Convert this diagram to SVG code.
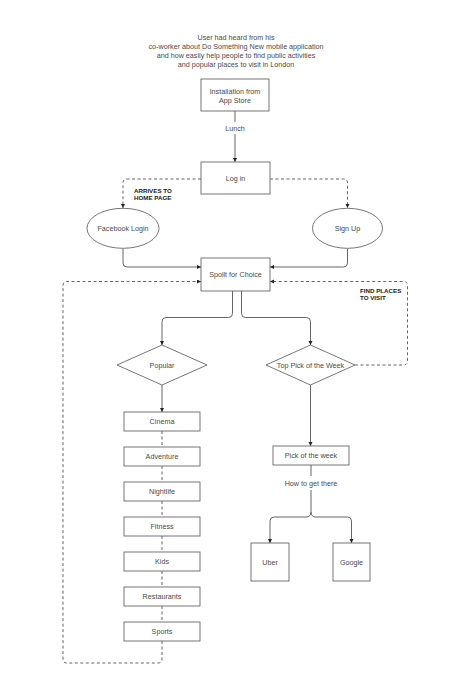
<svg xmlns="http://www.w3.org/2000/svg" width="474" height="698" viewBox="0 0 474 698">
<defs>
<style>
text{font-family:"Liberation Sans",Arial,sans-serif;font-size:7.2px;fill:#4a4a4a;text-anchor:middle}
.b{font-weight:bold;font-size:6.2px;fill:#222;text-anchor:start}
.n{fill:#fff;stroke:#666;stroke-width:0.9}
.c{fill:none;stroke:#555;stroke-width:0.9}
.d{fill:none;stroke:#555;stroke-width:0.9;stroke-dasharray:3 2.5}
</style>
<marker id="a" markerUnits="userSpaceOnUse" markerWidth="5" markerHeight="5" refX="4" refY="2" orient="auto">
<path d="M0,0 L4,2 L0,4 z" fill="#222"/>
</marker>
</defs>
<rect width="474" height="698" fill="#fff"/>
<g id="title">
<text x="236" y="39.5">User had heard from his</text>
<text x="236" y="48.5">co-worker about Do Something New mobile application</text>
<text x="236" y="57.5">and how easily help people to find public activities</text>
<text x="236" y="66.5">and popular places to visit in London</text>
</g>
<g id="connectors">
<path class="c" d="M235,111 L235,122"/>
<path class="c" d="M235,134 L235,162" marker-end="url(#a)"/>
<path class="d" d="M201,179 L127,179 Q123,179 123,183 L123,208" marker-end="url(#a)"/>
<path class="d" d="M270,179 L343.5,179 Q347.5,179 347.5,183 L347.5,208" marker-end="url(#a)"/>
<path class="c" d="M123,248.5 L123,263 Q123,267 127,267 L201,267" marker-end="url(#a)"/>
<path class="c" d="M347.5,248.5 L347.5,263 Q347.5,267 343.5,267 L270,267" marker-end="url(#a)"/>
<path class="d" d="M162,641 L162,659 Q162,663 158,663 L67,663 Q63,663 63,659 L63,285.5 Q63,281.5 67,281.5 L201,281.5" marker-end="url(#a)"/>
<path class="d" d="M355,365 L403.5,365 Q407.5,365 407.5,361 L407.5,285.5 Q407.5,281.5 403.5,281.5 L270,281.5" marker-end="url(#a)"/>
<path class="c" d="M232.5,291 L232.5,313.5 Q232.5,317.5 228.5,317.5 L166,317.5 Q162,317.5 162,321.5 L162,345" marker-end="url(#a)"/>
<path class="c" d="M241.5,291 L241.5,313.5 Q241.5,317.5 245.5,317.5 L306.5,317.5 Q310.5,317.5 310.5,321.5 L310.5,345" marker-end="url(#a)"/>
<path class="c" d="M162,385 L162,412" marker-end="url(#a)"/>
<path class="d" d="M162,431 L162,447 M162,466 L162,482 M162,501 L162,517 M162,536 L162,552 M162,571 L162,587 M162,606 L162,622"/>
<path class="c" d="M310.5,385 L310.5,446" marker-end="url(#a)"/>
<path class="c" d="M311,465 L311,476"/>
<path class="c" d="M311,490 L311,512 Q311,517 306,517 L274,517 Q270,517 270,521 L270,543" marker-end="url(#a)"/>
<path class="c" d="M311,512 Q311,517 316,517 L347.5,517 Q351.5,517 351.5,521 L351.5,543" marker-end="url(#a)"/>
<text x="235" y="130.5">Lunch</text>
<text x="311" y="485.5">How to get there</text>
<text class="b" x="134" y="192.5">ARRIVES TO</text>
<text class="b" x="134" y="200.3">HOME PAGE</text>
<text class="b" x="360" y="292.5">FIND PLACES</text>
<text class="b" x="360" y="300.3">TO VISIT</text>
</g>
<g id="install"><rect class="n" x="201" y="79" width="68" height="32"/><text x="235" y="93.5">Installation from</text><text x="235" y="102.5">App Store</text></g>
<g id="login"><rect class="n" x="201" y="162" width="69" height="32"/><text x="235.5" y="181">Log in</text></g>
<g id="facebook"><ellipse class="n" cx="123" cy="228.3" rx="36" ry="20"/><text x="123" y="230.8">Facebook Login</text></g>
<g id="signup"><ellipse class="n" cx="347.5" cy="228.3" rx="35" ry="20"/><text x="347.5" y="230.8">Sign Up</text></g>
<g id="spoilt"><rect class="n" x="201" y="258" width="69" height="33"/><text x="235.5" y="277">Spoilt for Choice</text></g>
<g id="popular"><path class="n" d="M162,345 L207,365 L162,385 L117,365 z"/><text x="162" y="367.5">Popular</text></g>
<g id="toppick"><path class="n" d="M310.5,345 L355,365 L310.5,385 L266,365 z"/><text x="310.5" y="367.5">Top Pick of the Week</text></g>
<g id="cinema"><rect class="n" x="124" y="412" width="76" height="19"/><text x="162" y="424">Cinema</text></g>
<g id="adventure"><rect class="n" x="124" y="447" width="76" height="19"/><text x="162" y="459">Adventure</text></g>
<g id="nightlife"><rect class="n" x="124" y="482" width="76" height="19"/><text x="162" y="494">Nightlife</text></g>
<g id="fitness"><rect class="n" x="124" y="517" width="76" height="19"/><text x="162" y="529">Fitness</text></g>
<g id="kids"><rect class="n" x="124" y="552" width="76" height="19"/><text x="162" y="564">Kids</text></g>
<g id="restaurants"><rect class="n" x="124" y="587" width="76" height="19"/><text x="162" y="599">Restaurants</text></g>
<g id="sports"><rect class="n" x="124" y="622" width="76" height="19"/><text x="162" y="634">Sports</text></g>
<g id="pick"><rect class="n" x="273" y="446" width="76" height="19"/><text x="311" y="458">Pick of the week</text></g>
<g id="uber"><rect class="n" x="251" y="543" width="38" height="38"/><text x="270" y="564.5">Uber</text></g>
<g id="google"><rect class="n" x="333" y="543" width="37" height="38"/><text x="351.5" y="565">Google</text></g>
</svg>
